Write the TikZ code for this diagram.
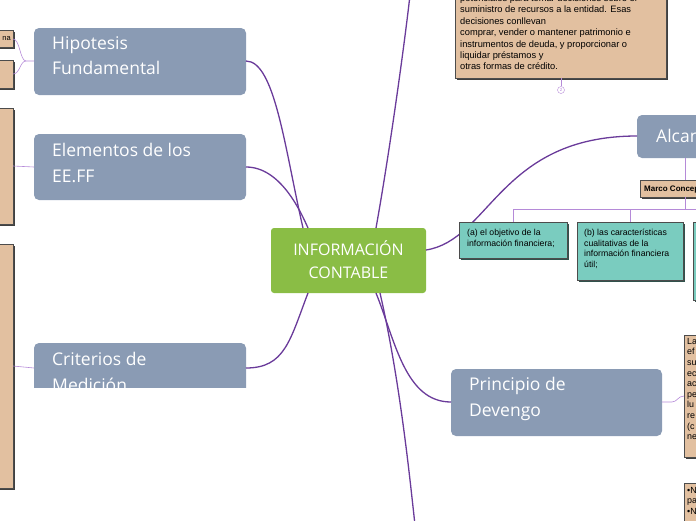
\documentclass[tikz,border=0pt]{standalone}
\usepackage{fontspec}
\setmainfont{Liberation Sans}
\newfontfamily\titlef{Open Sans}
\usetikzlibrary{shadows}
\definecolor{bluebox}{HTML}{8A9BB4}
\definecolor{greenbox}{HTML}{8ABD45}
\definecolor{tan}{HTML}{E2C0A0}
\definecolor{teal}{HTML}{7ACCBF}
\definecolor{purp}{HTML}{6A3B9A}
\definecolor{lpurp}{HTML}{B58AD8}
\tikzset{
 x=1pt,y=-1pt,
 bbox/.style={fill=bluebox,rounded corners=5pt,draw=none,text=white,font=\titlef\fontsize{17.5}{25.5}\selectfont,align=left,inner sep=0},
 note/.style={fill=tan,draw=black!70,line width=0.5pt,drop shadow={shadow xshift=2pt,shadow yshift=-2pt,fill=black!75,opacity=1},inner sep=0},
 tnote/.style={fill=teal,draw=black!70,line width=0.5pt,drop shadow={shadow xshift=2pt,shadow yshift=-2pt,fill=black!60!teal,opacity=1},inner sep=0},
 main/.style={purp,line width=1.3pt},
 thin/.style={lpurp,line width=0.6pt},
 small/.style={font=\fontsize{8.7}{10.5}\selectfont,align=left,anchor=north west,inner sep=0},
}
\begin{document}
\begin{tikzpicture}
\useasboundingbox (0,0) rectangle (696,520);
\path[bbox] (34,28) rectangle (246,95);
\node[bbox,anchor=north west] (hip) at (52,36) {Hipotesis\\Fundamental};
\coordinate (hipE) at (246,61); \coordinate (hipW) at (34,61);
\path[bbox] (34,134) rectangle (246,200);
\node[bbox,anchor=north west] (ele) at (52,143) {Elementos de los\\EE.FF};
\coordinate (eleE) at (246,167); \coordinate (eleW) at (34,167);
\begin{scope}
\clip (34,343) rectangle (246,387);
\path[bbox] (34,343) rectangle (246,394);
\node[bbox,anchor=north west] (cri) at (52,352) {Criterios de\\Medición};
\end{scope}
\coordinate (criE) at (246,368); \coordinate (criW) at (34,368);
\path[bbox] (451,369) rectangle (662,436);
\node[bbox,anchor=north west] (dev) at (469,377) {Principio de\\Devengo};
\coordinate (devW) at (451,402); \coordinate (devE) at (662,402);
\path[bbox] (637,115) rectangle (710,158);
\node[bbox,anchor=west] (alc) at (656,136) {Alcance};
\coordinate (alcW) at (637,136);
\path[fill=greenbox,rounded corners=3pt] (271,228) rectangle (426,293);
\node[text=white,font=\titlef\fontsize{16}{23}\selectfont,align=center] (cen) at (348.5,260) {INFORMACIÓN\\CONTABLE};
\coordinate (cenN) at (348,228); \coordinate (cenS) at (348,293);
\draw[main] (cenN) ++(-45,0) .. controls (285,150) and (275,61) .. (hipE);
\draw[main] (cenN) ++(-40,0) .. controls (300,210) and (280,167) .. (eleE);
\draw[main] (cenS) ++(-40,0) .. controls (290,340) and (285,368) .. (criE);
\draw[main] (cenN) ++(28,0) .. controls (390,150) and (405,40) .. (410,-5);
\draw[main] (426,250) .. controls (490,240) and (500,136) .. (alcW);
\draw[main] (cenS) ++(28,0) .. controls (395,340) and (405,402) .. (devW);
\draw[main] (cenS) ++(32,0) .. controls (400,380) and (410,480) .. (415,525);
\node[note,minimum width=211,minimum height=84,anchor=north west] (top) at (455,-6) {};
\node[small,font=\fontsize{9.3}{11.4}\selectfont] at (460,-5.5) {potenciales para tomar decisiones sobre el\\suministro de recursos a la entidad. Esas\\decisiones conllevan\\comprar, vender o mantener patrimonio e\\instrumentos de deuda, y proporcionar o\\liquidar préstamos y\\otras formas de crédito.};
\node[circle,draw=lpurp,inner sep=0,minimum size=7pt,font=\fontsize{4.5}{5}\selectfont,text=lpurp] (two) at (561,90) {2};
\draw[thin] (561,78) -- (two);
\node[note,minimum width=70,minimum height=17,anchor=north west] (mar) at (640,180) {};
\node[small,font=\bfseries\fontsize{8}{9}\selectfont,anchor=west] at (644,189) {Marco Conceptual};
\draw[thin] (685,158) -- (685,180);
\draw[thin] (685,197) -- (685,209) (513,209) -- (700,209) (513,209) -- (513,222) (630,209) -- (630,222);
\node[tnote,minimum width=108,minimum height=36,anchor=north west] (ta) at (459,222) {};
\node[small] at (467,229) {(a) el objetivo de la\\información financiera;};
\node[tnote,minimum width=106,minimum height=58,anchor=north west] (tb) at (577,222) {};
\node[small] at (584,229) {(b) las características\\cualitativas de la\\información financiera\\útil;};
\node[tnote,minimum width=20,minimum height=78,anchor=north west] (tc) at (693,222) {};
\node[note,minimum width=20,minimum height=17,anchor=north west] (l1) at (-7,30) {};
\node[small,font=\fontsize{7.5}{8}\selectfont,anchor=east] at (11,39) {na};
\node[note,minimum width=20,minimum height=28,anchor=north west] (l2) at (-7,60) {};
\node[note,minimum width=20,minimum height=116,anchor=north west] (l3) at (-7,108) {};
\node[note,minimum width=20,minimum height=244,anchor=north west] (l4) at (-7,244) {};
\draw[thin] (hipW) -- (26,61) .. controls (20,61) and (20,39) .. (13,39);
\draw[thin] (26,61) .. controls (20,61) and (20,74) .. (13,74);
\draw[thin] (eleW) -- (13,166);
\draw[thin] (criW) -- (13,366);
\node[note,minimum width=25,minimum height=122,anchor=north west] (r1) at (684,335) {};
\node[small,font=\fontsize{8.9}{10.6}\selectfont] at (687,338) {La\\ef\\su\\ec\\ac\\pe\\lu\\re\\(c\\ne};
\node[note,minimum width=25,minimum height=45,anchor=north west] (r2) at (684,483) {};
\node[small,font=\fontsize{8.9}{10.6}\selectfont] at (687,487) {•N\\pa\\•N};
\draw[thin] (devE) -- (672,402) .. controls (677,402) and (678,396) .. (684,396);
\end{tikzpicture}
\end{document}
